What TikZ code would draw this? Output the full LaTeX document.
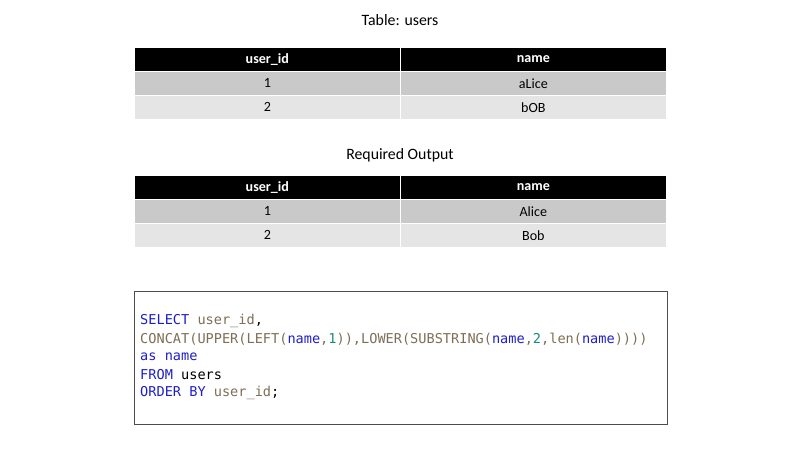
\documentclass[tikz,border=0pt]{standalone}
\usepackage{fontspec}
\setmainfont{Carlito}
\setmonofont{DejaVu Sans Mono}
\begin{document}
\begin{tikzpicture}[x=0.03cm,y=-0.03cm,
  title/.style={font=\fontsize{13.5}{16}\selectfont},
  hdr/.style={fill=black,draw=white,line width=0.6pt,text=white,font=\fontsize{12}{14}\selectfont\bfseries,anchor=north west,inner sep=0pt,minimum width=266*0.03cm,minimum height=24*0.03cm},
  rowa/.style={hdr,fill=gray!42,text=black,font=\fontsize{12}{14}\selectfont},
  rowb/.style={hdr,fill=gray!20,text=black,font=\fontsize{12}{14}\selectfont},
  codebox/.style={draw=black!70,line width=0.6pt},
  code/.style={anchor=west,inner sep=0pt,font=\fontsize{11.6}{14}\ttfamily}]
\definecolor{kw}{RGB}{30,30,200}
\definecolor{fn}{RGB}{125,110,85}
\definecolor{num}{RGB}{20,140,120}
\useasboundingbox (0,0) rectangle (800,450);
\node[title] (t1) at (400,20) {Table: users};
\node[hdr] (h1a) at (134,47) {user\_id};
\node[hdr] (h1b) at (400,47) {name};
\node[rowa] (r11a) at (134,71) {1};
\node[rowa] (r11b) at (400,71) {aLice};
\node[rowb] (r12a) at (134,95) {2};
\node[rowb] (r12b) at (400,95) {bOB};
\node[title] (t2) at (400,155) {Required Output};
\node[hdr] (h2a) at (134,175) {user\_id};
\node[hdr] (h2b) at (400,175) {name};
\node[rowa] (r21a) at (134,199) {1};
\node[rowa] (r21b) at (400,199) {Alice};
\node[rowb] (r22a) at (134,223) {2};
\node[rowb] (r22b) at (400,223) {Bob};
\draw[codebox] (134,291) rectangle (667,424);
\node[code] (c1) at (140,321) {\textcolor{kw}{SELECT} \textcolor{fn}{user\_id},};
\node[code] (c2) at (140,339) {\textcolor{fn}{CONCAT(UPPER(LEFT(}\textcolor{kw}{name}\textcolor{fn}{,}\textcolor{num}{1}\textcolor{fn}{)),LOWER(SUBSTRING(}\textcolor{kw}{name}\textcolor{fn}{,}\textcolor{num}{2}\textcolor{fn}{,len(}\textcolor{kw}{name}\textcolor{fn}{))))}};
\node[code] (c3) at (140,357) {\textcolor{kw}{as name}};
\node[code] (c4) at (140,375) {\textcolor{kw}{FROM} users};
\node[code] (c5) at (140,393) {\textcolor{kw}{ORDER BY} \textcolor{fn}{user\_id};};
\end{tikzpicture}
\end{document}
